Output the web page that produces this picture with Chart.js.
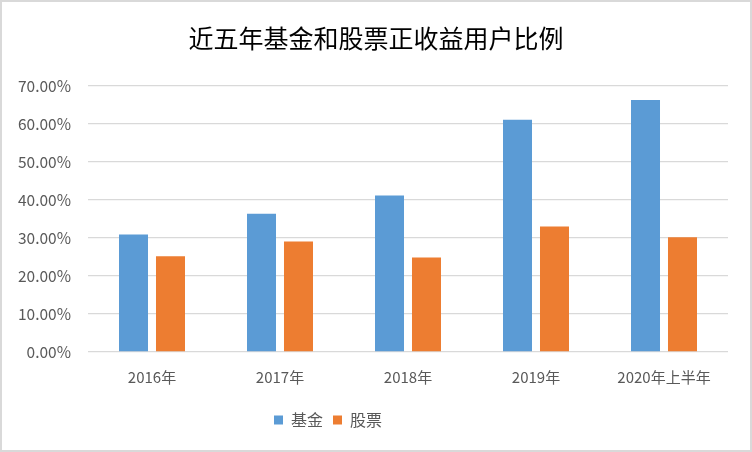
<!DOCTYPE html>
<html>
<head>
<meta charset="utf-8">
<script src="https://cdn.jsdelivr.net/npm/chart.js@4.4.0/dist/chart.umd.min.js"></script>
<style>
  html, body { margin: 0; padding: 0; background: #fff; }
  canvas { display: block; }
</style>
</head>
<body>
<canvas id="chart" width="752" height="452"></canvas>
<script>
// Data
const categories = ['2016年', '2017年', '2018年', '2019年', '2020年上半年'];
const fundValues = [30.9, 36.4, 41.2, 61.1, 66.3];
const stockValues = [25.2, 29.1, 24.9, 33.0, 30.2];
const seriesNames = ['基金', '股票'];
const yTicks = [0, 10, 20, 30, 40, 50, 60, 70];

const font = '"Noto Sans CJK SC", "Noto Sans", sans-serif';
const tickColor = '#595959';

// white background + thin grey frame
const frame = {
  id: 'frame',
  beforeDraw(chart) {
    const c = chart.ctx;
    c.save();
    c.fillStyle = '#fff';
    c.fillRect(0, 0, chart.width, chart.height);
    c.strokeStyle = '#d9d9d9';
    c.lineWidth = 2;
    c.strokeRect(1, 1, chart.width - 2, chart.height - 2);
    c.restore();
  }
};

// the legend sits a bit left of centre in the original
const legendShift = {
  id: 'legendShift',
  afterLayout(chart) {
    if (chart.legend) {
      chart.legend.left -= 48;
      chart.legend.right -= 48;
    }
  }
};

new Chart(document.getElementById('chart'), {
  type: 'bar',
  data: {
    labels: categories,
    datasets: [
      { label: seriesNames[0], data: fundValues, backgroundColor: '#5B9BD5' },
      { label: seriesNames[1], data: stockValues, backgroundColor: '#ED7D31' }
    ]
  },
  options: {
    responsive: false,
    animation: false,
    devicePixelRatio: 1,
    categoryPercentage: 0.578,
    barPercentage: 0.784,
    layout: { padding: { left: 0, right: 0, top: 0, bottom: 14 } },
    plugins: {
      title: {
        display: true,
        text: '近五年基金和股票正收益用户比例',
        color: '#000',
        font: { family: font, size: 25, weight: 'normal' },
        padding: { top: 23, bottom: 33 }
      },
      legend: {
        position: 'bottom',
        labels: {
          color: tickColor,
          font: { family: font, size: 16 },
          boxWidth: 9,
          boxHeight: 9,
          padding: 10
        }
      },
      tooltip: { enabled: false }
    },
    scales: {
      x: {
        grid: { display: false, drawTicks: false },
        border: { display: false },
        ticks: { color: tickColor, font: { family: font, size: 15 }, padding: 16, maxRotation: 0 },
        afterFit(scale) {
          scale.height = 50;
          scale.paddingRight = 24;
        }
      },
      y: {
        min: 0,
        max: 70,
        afterBuildTicks(scale) { scale.ticks = yTicks.map(v => ({ value: v })); },
        grid: { color: '#d9d9d9', lineWidth: 1.3, drawTicks: false },
        border: { display: false },
        ticks: {
          color: tickColor,
          font: { family: font, size: 15.5 },
          padding: 17,
          callback: v => v.toFixed(2) + '%'
        },
        afterFit(scale) { scale.width = 88; }
      }
    }
  },
  plugins: [frame, legendShift]
});
</script>
</body>
</html>
